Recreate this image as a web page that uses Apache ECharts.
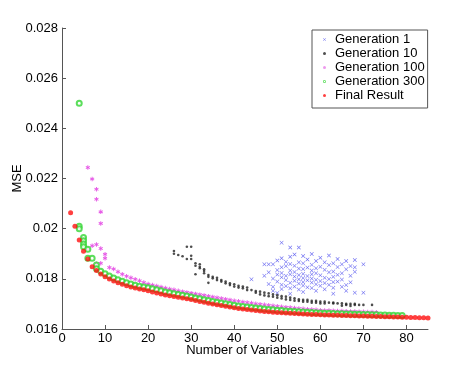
<!DOCTYPE html>
<html>
<head>
<meta charset="utf-8">
<script src="https://cdn.jsdelivr.net/npm/echarts@6/dist/echarts.min.js"></script>
<style>
html,body{margin:0;padding:0;background:#fff;}
#chart{width:474px;height:368px;}
</style>
</head>
<body>
<div id="chart"></div>
<script>
// ---- data ----
var seriesNames = ['Generation 1', 'Generation 10', 'Generation 100', 'Generation 300', 'Final Result'];
var xTicks = [0, 10, 20, 30, 40, 50, 60, 70, 80];
var yTicks = [0.016, 0.018, 0.02, 0.022, 0.024, 0.026, 0.028];
var yTickLabels = ['0.016', '0.018', '0.02', '0.022', '0.024', '0.026', '0.028'];

// Final Result: x = 2..85
var finalX = [2,3,4,5,6,7,8,9,10,11,12,13,14,15,16,17,18,19,20,21,22,23,24,25,26,27,28,29,30,31,32,33,34,35,36,37,38,39,40,41,42,43,44,45,46,47,48,49,50,51,52,53,54,55,56,57,58,59,60,61,62,63,64,65,66,67,68,69,70,71,72,73,74,75,76,77,78,79,80,81,82,83,84,85];
var finalMSE = [0.02063,0.0201,0.01955,0.0191,0.01879,0.01848,0.01833,0.01819,0.01808,0.01799,0.01791,0.01784,0.01778,0.01772,0.01767,0.01763,0.01759,0.01756,0.01752,0.01748,0.01744,0.0174,0.01736,0.01733,0.0173,0.01727,0.01724,0.01721,0.01718,0.01714,0.0171,0.01707,0.01703,0.017,0.01697,0.01694,0.01691,0.01688,0.01685,0.01682,0.0168,0.01678,0.01676,0.01674,0.01672,0.0167,0.01669,0.01667,0.01666,0.01665,0.01664,0.01663,0.01662,0.01661,0.0166,0.01659,0.01658,0.01658,0.01657,0.01656,0.01656,0.01655,0.01655,0.01654,0.01654,0.01653,0.01653,0.01652,0.01652,0.01651,0.01651,0.0165,0.0165,0.01649,0.01649,0.01648,0.01648,0.01647,0.01647,0.01646,0.01646,0.01645,0.01645,0.01644];

// Generation 300
var gen300Extra = [[4,0.025],[4,0.0201],[4,0.02],[5,0.01965],[5,0.01952],[5,0.01939],[5,0.01928],[6,0.01918],[6,0.01882],[7,0.01882],[8,0.01855],[8,0.0184]];
var gen300X = [9,10,11,12,13,14,15,16,17,18,19,20,21,22,23,24,25,26,27,28,29,30,31,32,33,34,35,36,37,38,39,40,41,42,43,44,45,46,47,48,49,50,51,52,53,54,55,56,57,58,59,60,61,62,63,64,65,66,67,68,69,70,71,72,73,74,75,76,77,78,79];
var gen300MSE = [0.0183,0.0182,0.01811,0.01803,0.01796,0.0179,0.01784,0.01779,0.01774,0.0177,0.01767,0.01764,0.0176,0.01756,0.01752,0.01748,0.01745,0.01741,0.01738,0.01735,0.01732,0.01728,0.01724,0.01721,0.01717,0.01714,0.0171,0.01707,0.01704,0.01701,0.01698,0.01695,0.01692,0.0169,0.01688,0.01686,0.01684,0.01682,0.0168,0.01678,0.01677,0.01675,0.01674,0.01672,0.01671,0.0167,0.01669,0.01668,0.01667,0.01666,0.01665,0.01664,0.01663,0.01663,0.01662,0.01661,0.01661,0.0166,0.0166,0.01659,0.01659,0.01658,0.01658,0.01657,0.01657,0.01656,0.01656,0.01655,0.01655,0.01654,0.01654];

// Generation 100
var gen100Extra = [[6,0.02244],[7,0.02198],[8,0.02157],[8,0.02117],[9,0.02067],[9,0.02021],[7,0.01932],[8,0.01937],[9,0.01921],[10,0.01898],[10,0.01882],[9,0.01862],[6,0.0192],[8,0.0186]];
var gen100X = [11,12,13,14,15,16,17,18,19,20,21,22,23,24,25,26,27,28,29,30,31,32,33,34,35,36,37,38,39,40,41,42,43,44,45,46,47,48,49,50,51,52,53,54,55,56,57,58,59,60,61,62,63,64,65,66,67,68,69,70,71,72,73];
var gen100MSE = [0.01845,0.01839,0.01828,0.01818,0.0181,0.01804,0.01798,0.01792,0.01785,0.01779,0.01775,0.01771,0.01767,0.01763,0.01759,0.01756,0.01752,0.01749,0.01746,0.01743,0.0174,0.01737,0.01734,0.01731,0.01728,0.01725,0.01722,0.01719,0.01716,0.01713,0.01711,0.01708,0.01706,0.01704,0.01701,0.01699,0.01697,0.01695,0.01693,0.01691,0.01689,0.01687,0.01686,0.01684,0.01682,0.01681,0.01679,0.01678,0.01677,0.01675,0.01674,0.01674,0.01673,0.01672,0.01672,0.01671,0.0167,0.0167,0.01669,0.01669,0.01668,0.01668,0.01667];

// Generation 10: [x, mse]
var gen10Points = [[26,0.01911],[26,0.019],[27,0.01895],[28,0.0189],[29,0.01928],[29,0.01879],[30,0.01928],[30,0.01892],[30,0.01879],[31,0.01862],[31,0.01852],[31,0.01818],[32,0.01858],[32,0.01848],[32,0.01842],[33,0.01838],[33,0.01831],[33,0.01822],[34,0.01815],[34,0.01808],[34,0.01784],[35,0.01808],[35,0.01802],[36,0.01804],[36,0.01795],[37,0.01795],[37,0.01789],[38,0.01789],[38,0.01782],[39,0.01782],[39,0.01775],[40,0.01778],[40,0.01769],[41,0.01772],[41,0.01765],[42,0.01769],[42,0.01762],[43,0.01765],[43,0.01755],[44,0.01755],[45,0.01751],[45,0.01745],[46,0.01749],[46,0.01738],[47,0.01745],[47,0.01734],[48,0.01742],[48,0.01731],[49,0.01738],[49,0.01729],[50,0.01735],[50,0.01725],[51,0.01731],[51,0.01722],[52,0.01729],[52,0.01718],[53,0.01725],[53,0.01716],[54,0.01722],[54,0.01713],[55,0.01718],[55,0.01712],[56,0.01716],[56,0.01709],[57,0.01716],[57,0.01709],[58,0.01712],[58,0.01705],[59,0.01712],[59,0.01705],[60,0.01709],[60,0.01702],[61,0.01709],[61,0.01702],[62,0.01705],[63,0.01705],[63,0.01702],[64,0.01702],[65,0.01702],[65,0.01693],[66,0.01696],[66,0.017],[67,0.017],[67,0.01692],[68,0.017],[68,0.01696],[69,0.01696],[70,0.01696],[72,0.01696]];

// Generation 1: [x, mse]
var gen1Points = [[44,0.01798],[47,0.01858],[47,0.01812],[48,0.01858],[48,0.01826],[48,0.01779],[49,0.01858],[49,0.01801],[49,0.01768],[49,0.01752],[50,0.01873],[50,0.01835],[50,0.01817],[50,0.01789],[50,0.01744],[51,0.01944],[51,0.01882],[51,0.01846],[51,0.01823],[51,0.01806],[51,0.01776],[51,0.01759],[52,0.01868],[52,0.01851],[52,0.01812],[52,0.01795],[52,0.01771],[53,0.01925],[53,0.01888],[53,0.01859],[53,0.01833],[53,0.01818],[53,0.01784],[53,0.01762],[53,0.01741],[54,0.01897],[54,0.01852],[54,0.01827],[54,0.01809],[54,0.01792],[54,0.01769],[55,0.01925],[55,0.01866],[55,0.01841],[55,0.01815],[55,0.01798],[55,0.01781],[55,0.01757],[56,0.01891],[56,0.01862],[56,0.01839],[56,0.0182],[56,0.01803],[56,0.01787],[56,0.01773],[56,0.01748],[57,0.01877],[57,0.01845],[57,0.01811],[57,0.01794],[57,0.01766],[58,0.01899],[58,0.01856],[58,0.01833],[58,0.01818],[58,0.01801],[58,0.01785],[58,0.01763],[59,0.01871],[59,0.01842],[59,0.01822],[59,0.01796],[59,0.01778],[59,0.01752],[60,0.01884],[60,0.01848],[60,0.01814],[60,0.01791],[60,0.01772],[61,0.01866],[61,0.01836],[61,0.01804],[61,0.01783],[61,0.01758],[62,0.01893],[62,0.01855],[62,0.01826],[62,0.01799],[62,0.01776],[63,0.01862],[63,0.01829],[63,0.01808],[63,0.01787],[63,0.01764],[63,0.01741],[64,0.01879],[64,0.01847],[64,0.01816],[64,0.01789],[65,0.01858],[65,0.01822],[65,0.01797],[65,0.01768],[66,0.01871],[66,0.01838],[66,0.01775],[66,0.01752],[67,0.01851],[67,0.01812],[67,0.01786],[68,0.01875],[68,0.01846],[68,0.01828],[68,0.01745],[70,0.01858],[70,0.01745]];

// ---- build ----
function zip(xs, ys) { return xs.map(function (x, i) { return [x, ys[i]]; }); }
var xPath = 'path://M0,1L1,0L5,4L9,0L10,1L6,5L10,9L9,10L5,6L1,10L0,9L4,5Z';
var starPath = 'path://M4,0H6V3.3L8.8,1.6L9.8,3.4L7,5L9.8,6.6L8.8,8.4L6,6.7V10H4V6.7L1.2,8.4L0.2,6.6L3,5L0.2,3.4L1.2,1.6L4,3.3Z';
var ringPath = 'path://M5,0A5,5,0,1,1,4.99,0ZM5,2.6A2.4,2.4,0,1,0,5.01,2.6Z';
var font = '"Liberation Sans", Arial, Helvetica, sans-serif';
var colors = ['rgba(40,40,235,0.85)', '#222', '#e030e0', '#33d633', '#ff1010'];

var chart = echarts.init(document.getElementById('chart'));
chart.setOption({
  animation: false,
  backgroundColor: '#fff',
  textStyle: { fontFamily: font },
  grid: { left: 62, right: 46, top: 28, bottom: 39, containLabel: false },
  legend: {
    orient: 'vertical',
    left: 312, top: 30,
    padding: [3, 3, 6, 11],
    itemWidth: 3, itemHeight: 3, itemGap: 1,
    backgroundColor: '#fff',
    borderColor: '#555', borderWidth: 1, borderRadius: 0,
    itemStyle: { borderWidth: 0 },
    textStyle: { fontSize: 13, color: '#000', fontFamily: font, lineHeight: 13, padding: [0,0,0,4] },
    data: [
      { name: seriesNames[0], icon: xPath, itemStyle: { color: colors[0], borderWidth: 0 } },
      { name: seriesNames[1], icon: 'circle', itemStyle: { color: colors[1], borderWidth: 0 } },
      { name: seriesNames[2], icon: 'circle', itemStyle: { color: '#e880e8', borderWidth: 0 } },
      { name: seriesNames[3], icon: ringPath, itemStyle: { color: colors[3], borderWidth: 0 } },
      { name: seriesNames[4], icon: 'circle', itemStyle: { color: colors[4], borderWidth: 0 } }
    ]
  },
  xAxis: {
    type: 'value', min: 0, max: 85, interval: 10,
    name: 'Number of Variables', nameLocation: 'middle', nameGap: 15, nameMoveOverlap: false,
    nameTextStyle: { fontSize: 13, color: '#000', fontFamily: font },
    axisLine: { show: true, lineStyle: { color: '#555', width: 1 } },
    axisTick: { show: true, inside: true, length: 4, lineStyle: { color: '#555' }, customValues: xTicks },
    axisLabel: { fontSize: 13, color: '#000', margin: 3, customValues: xTicks, fontFamily: font },
    splitLine: { show: false }
  },
  yAxis: {
    type: 'value', min: 0.016, max: 0.028, interval: 0.002,
    name: 'MSE', nameLocation: 'middle', nameGap: 38, nameRotate: 90, nameMoveOverlap: false,
    nameTextStyle: { fontSize: 13, color: '#000', fontFamily: font },
    axisLine: { show: true, lineStyle: { color: '#555', width: 1 } },
    axisTick: { show: true, inside: true, length: 4, lineStyle: { color: '#555' }, customValues: yTicks },
    axisLabel: {
      fontSize: 13, color: '#000', margin: 4, customValues: yTicks, fontFamily: font,
      formatter: function (v) {
        for (var i = 0; i < yTicks.length; i++) { if (Math.abs(yTicks[i] - v) < 1e-9) return yTickLabels[i]; }
        return '';
      }
    },
    splitLine: { show: false }
  },
  series: [
    { name: seriesNames[0], type: 'scatter', symbol: xPath, symbolSize: 4,
      itemStyle: { color: colors[0] }, data: gen1Points },
    { name: seriesNames[1], type: 'scatter', symbol: 'circle', symbolSize: 2.6,
      itemStyle: { color: colors[1] }, data: gen10Points },
    { name: seriesNames[2], type: 'scatter', symbol: starPath, symbolSize: 4.5,
      itemStyle: { color: colors[2] }, data: gen100Extra.concat(zip(gen100X, gen100MSE)) },
    { name: seriesNames[3], type: 'scatter', symbol: 'emptyCircle', symbolSize: 5,
      itemStyle: { color: colors[3], borderColor: colors[3], borderWidth: 0.8 }, data: gen300Extra.concat(zip(gen300X, gen300MSE)) },
    { name: seriesNames[4], type: 'scatter', symbol: 'circle', symbolSize: 5,
      itemStyle: { color: colors[4] }, data: zip(finalX, finalMSE) }
  ]
});
</script>
</body>
</html>
